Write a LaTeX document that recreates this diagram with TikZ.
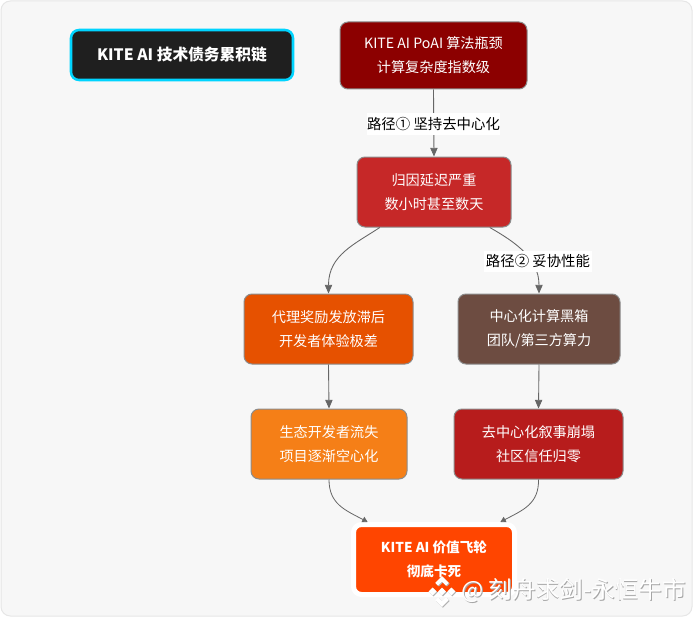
\documentclass[tikz,border=0pt]{standalone}
\usepackage{fontspec}
\setmainfont{Noto Sans CJK SC}
\usetikzlibrary{calc,arrows.meta}
\def\pxu{0.75pt}
\definecolor{panel}{HTML}{F7F7F7}
\definecolor{panelline}{HTML}{E6E6E6}
\definecolor{linkc}{HTML}{666666}
\definecolor{skyline}{HTML}{00D4FF}
\tikzset{
 x=0.75pt,y=-0.75pt,
 flow/.style={draw=black!45,line width=0.75pt,rounded corners=6pt,text=white,align=center,inner sep=0pt,
   font=\fontsize{10.6pt}{18pt}\selectfont},
 conn/.style={draw=linkc,line width=0.65pt,-{Stealth[length=6.5pt,width=5.5pt,inset=0pt]}},
 connsmall/.style={draw=linkc,line width=0.6pt,-{Stealth[length=4pt,width=4.5pt,inset=0pt]}},
 tag/.style={fill=white,inner sep=0pt,text=black,minimum height=16pt,font=\fontsize{10.8pt}{12pt}\selectfont},
 wmtext/.style={inner sep=0pt,anchor=west,font=\fontsize{17.7pt}{20pt}\selectfont},
}
\begin{document}
\begin{tikzpicture}
\useasboundingbox (0,0) rectangle (693,617);
\fill[white] (0,0) rectangle (693,617);
\draw[panelline,fill=panel,line width=0.75pt,rounded corners=7pt] (1,1) rectangle (692,616);

\node[flow,draw=skyline,line width=1.9pt,fill=black!88,minimum width=222*\pxu,minimum height=50*\pxu,
  font=\fontsize{11.8pt}{14pt}\selectfont\bfseries] (title) at (182,55) {KITE AI 技术债务累积链};
\node[flow,fill=red!55!black,minimum width=187*\pxu,minimum height=67*\pxu] (top) at (433.5,55.5) {KITE AI PoAI 算法瓶颈\\计算复杂度指数级};
\node[flow,fill={rgb,255:red,198;green,40;blue,40},minimum width=154*\pxu,minimum height=70*\pxu] (attr) at (434,192) {归因延迟严重\\数小时甚至数天};
\node[flow,fill={rgb,255:red,230;green,81;blue,0},minimum width=169*\pxu,minimum height=70*\pxu] (reward) at (328.5,329) {代理奖励发放滞后\\开发者体验极差};
\node[flow,fill={rgb,255:red,109;green,76;blue,65},minimum width=162*\pxu,minimum height=70*\pxu] (blackbox) at (539,329) {中心化计算黑箱\\团队/第三方算力};
\node[flow,fill={rgb,255:red,245;green,127;blue,23},minimum width=156*\pxu,minimum height=70*\pxu] (loss) at (329,444) {生态开发者流失\\项目逐渐空心化};
\node[flow,fill={rgb,255:red,183;green,28;blue,28},minimum width=169*\pxu,minimum height=70*\pxu] (collapse) at (538.5,444) {去中心化叙事崩塌\\社区信任归零};
\node[flow,draw=white,line width=3.75pt,fill={rgb,255:red,255;green,69;blue,0},minimum width=161*\pxu,minimum height=70*\pxu,
  font=\fontsize{10.2pt}{18pt}\selectfont\bfseries] (fly) at (434,559.5) {KITE AI 价值飞轮\\彻底卡死};

\coordinate (attrL) at ($(attr.south west)!0.15!(attr.south east)$);
\coordinate (attrR) at ($(attr.south west)!0.86!(attr.south east)$);
\coordinate (flyL) at ($(fly.north west)!0.1!(fly.north east)$);
\coordinate (flyR) at ($(fly.north west)!0.9!(fly.north east)$);

\draw[conn] (top.south) -- (attr.north);
\draw[conn] (attrL) .. controls (355,244) and (328.5,255) .. (reward.north);
\draw[conn] (attrR) .. controls (515,242) and (539,258) .. (blackbox.north);
\draw[conn] (reward.south) -- (loss.north);
\draw[conn] (blackbox.south) -- (collapse.north);
\draw[connsmall] (loss.south) .. controls (329,504) and (345,510) .. (flyL);
\draw[connsmall] (collapse.south) .. controls (539,504) and (523,510) .. (flyR);

\node[tag,minimum width=133*\pxu] (tag1) at (433.5,124) {路径① 坚持去中心化};
\node[tag,minimum width=108*\pxu] (tag2) at (538,261.5) {路径② 妥协性能};

% watermark
\foreach \c/\o in {black!30/0.9,white/0}{
 \begin{scope}[shift={(\o,\o)}]
  \begin{scope}[shift={(442,591.5)},scale=1.33]
  \fill[\c] (0,-11.5) -- (5,-6.5) -- (3,-4.5) -- (0,-7.5) -- (-3,-4.5) -- (-5,-6.5) -- cycle;
  \fill[\c] (0,11.5) -- (5,6.5) -- (3,4.5) -- (0,7.5) -- (-3,4.5) -- (-5,6.5) -- cycle;
  \fill[\c] (0,-3) -- (3,0) -- (0,3) -- (-3,0) -- cycle;
  \fill[\c] (-10,0) -- (-7,-3) -- (-4,0) -- (-7,3) -- cycle;
  \fill[\c] (4,0) -- (7,-3) -- (10,0) -- (7,3) -- cycle;
  \end{scope}
 \end{scope}
}
\node[wmtext,text=black!35] (wmshadow) at (461.8,591.8) {@ 刻舟求剑-永恒牛市};
\node[wmtext,text=white] (wm) at (461,591) {@ 刻舟求剑-永恒牛市};
\end{tikzpicture}
\end{document}
